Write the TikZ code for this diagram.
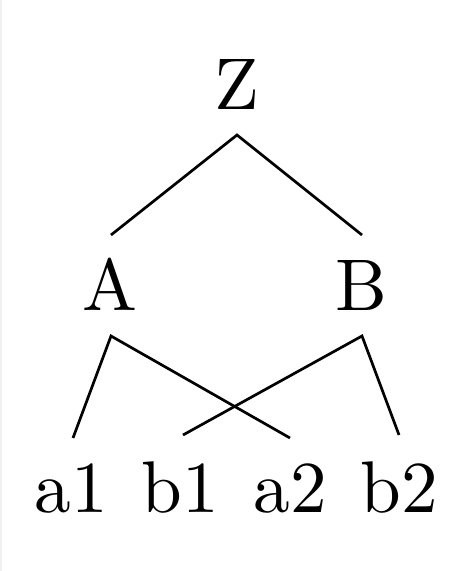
\documentclass[tikz,border=0pt]{standalone}
\begin{document}
\begin{tikzpicture}[x=0.5pt,y=-0.5pt,
  lbl/.style={anchor=base,inner sep=0pt,font=\fontsize{10}{12}\selectfont,scale=3.66},
  edge/.style={line width=1.35pt,line cap=butt}]
\useasboundingbox (0,0) rectangle (474,571);
\fill[black!6] (0,0) rectangle (2,571);
\node[lbl] (Z) at (237,110) {Z};
\node[lbl] (A) at (110,310) {A};
\node[lbl] (B) at (361,310) {B};
\node[lbl] (a1) at (71,512) {a1};
\node[lbl] (b1) at (180,512) {b1};
\node[lbl] (a2) at (290,512) {a2};
\node[lbl] (b2) at (399,512) {b2};
\coordinate (Zb) at (237,135);
\coordinate (At) at (111,235);
\coordinate (Bt) at (362,235);
\coordinate (Ab) at (111,336);
\coordinate (Bb) at (362,336);
\coordinate (a1t) at (73,438);
\coordinate (b1t) at (183,435);
\coordinate (a2t) at (290,438);
\coordinate (b2t) at (399,435);
\draw[edge] (At) -- (Zb) -- (Bt);
\draw[edge] (a1t) -- (Ab) -- (a2t);
\draw[edge] (b1t) -- (Bb) -- (b2t);
\end{tikzpicture}
\end{document}
